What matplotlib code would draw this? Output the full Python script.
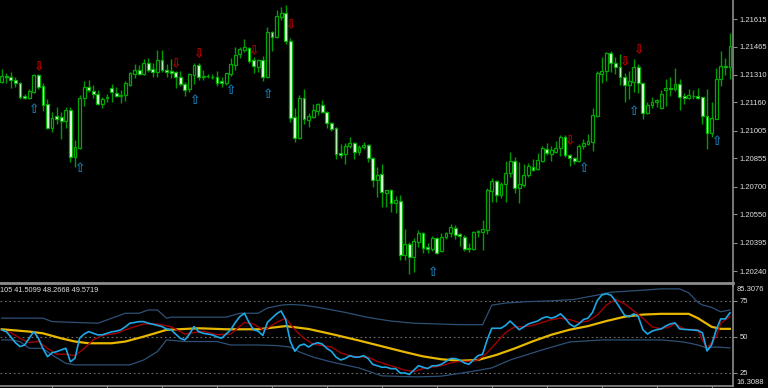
import matplotlib
matplotlib.use("Agg")
import matplotlib.pyplot as plt
from matplotlib.lines import Line2D
import numpy as np

# ---- price data (one candle per bar) ----
opens = [1.21272, 1.21304, 1.21299, 1.21283, 1.21267, 1.21195, 1.21184, 1.21217, 1.21310, 1.21250,
         1.21152, 1.21021, 1.21086, 1.21081, 1.21059, 1.21119, 1.20862, 1.20912, 1.21184, 1.21244,
         1.21223, 1.21206, 1.21152, 1.21184, 1.21239, 1.21212, 1.21195, 1.21201, 1.21255, 1.21315,
         1.21337, 1.21315, 1.21375, 1.21343, 1.21326, 1.21392, 1.21337, 1.21332, 1.21326, 1.21299,
         1.21261, 1.21233, 1.21310, 1.21364, 1.21299, 1.21304, 1.21299, 1.21299, 1.21277, 1.21267,
         1.21315, 1.21364, 1.21424, 1.21446, 1.21457, 1.21392, 1.21353, 1.21392, 1.21299, 1.21544,
         1.21517, 1.21626, 1.21648, 1.21495, 1.21081, 1.20966, 1.21184, 1.21064, 1.21081, 1.21113,
         1.21146, 1.21108, 1.21048, 1.21021, 1.20884, 1.20879, 1.20922, 1.20939, 1.20890, 1.20917,
         1.20928, 1.20857, 1.20737, 1.20770, 1.20666, 1.20682, 1.20611, 1.20622, 1.20328, 1.20388,
         1.20317, 1.20399, 1.20448, 1.20371, 1.20360, 1.20420, 1.20350, 1.20426, 1.20448, 1.20475,
         1.20442, 1.20426, 1.20366, 1.20360, 1.20453, 1.20453, 1.20464, 1.20677, 1.20731, 1.20655,
         1.20715, 1.20775, 1.20841, 1.20693, 1.20710, 1.20764, 1.20808, 1.20797, 1.20841, 1.20906,
         1.20879, 1.20890, 1.20912, 1.20972, 1.20873, 1.20857, 1.20841, 1.20922, 1.20933, 1.20944,
         1.21086, 1.21315, 1.21332, 1.21430, 1.21375, 1.21353, 1.21299, 1.21255, 1.21272, 1.21353,
         1.21267, 1.21102, 1.21146, 1.21162, 1.21130, 1.21228, 1.21239, 1.21233, 1.21261, 1.21195,
         1.21184, 1.21195, 1.21195, 1.21190, 1.21086, 1.20993, 1.21070, 1.21288, 1.21359, 1.21353]
highs = [1.21343, 1.21321, 1.21326, 1.21299, 1.21272, 1.21206, 1.21233, 1.21315, 1.21315, 1.21267,
         1.21179, 1.21108, 1.21135, 1.21108, 1.21135, 1.21135, 1.20955, 1.21201, 1.21277, 1.21283,
         1.21255, 1.21228, 1.21190, 1.21206, 1.21261, 1.21244, 1.21228, 1.21277, 1.21326, 1.21370,
         1.21364, 1.21397, 1.21403, 1.21375, 1.21446, 1.21446, 1.21370, 1.21397, 1.21332, 1.21332,
         1.21272, 1.21321, 1.21375, 1.21375, 1.21337, 1.21315, 1.21315, 1.21332, 1.21299, 1.21321,
         1.21403, 1.21463, 1.21463, 1.21506, 1.21463, 1.21408, 1.21397, 1.21413, 1.21572, 1.21550,
         1.21664, 1.21681, 1.21692, 1.21512, 1.21130, 1.21201, 1.21233, 1.21102, 1.21152, 1.21157,
         1.21173, 1.21113, 1.21053, 1.21026, 1.20933, 1.20939, 1.20972, 1.20944, 1.20928, 1.20944,
         1.20933, 1.20862, 1.20808, 1.20824, 1.20682, 1.20688, 1.20650, 1.20655, 1.20470, 1.20399,
         1.20420, 1.20464, 1.20451, 1.20393, 1.20431, 1.20426, 1.20448, 1.20453, 1.20497, 1.20491,
         1.20448, 1.20437, 1.20393, 1.20459, 1.20464, 1.20519, 1.20693, 1.20748, 1.20737, 1.20726,
         1.20841, 1.20890, 1.20862, 1.20835, 1.20824, 1.20830, 1.20851, 1.20884, 1.20922, 1.20939,
         1.20922, 1.20950, 1.20982, 1.20982, 1.20879, 1.20862, 1.20933, 1.20961, 1.20988, 1.21130,
         1.21332, 1.21408, 1.21435, 1.21441, 1.21408, 1.21424, 1.21321, 1.21332, 1.21397, 1.21370,
         1.21267, 1.21162, 1.21190, 1.21179, 1.21228, 1.21288, 1.21299, 1.21348, 1.21288, 1.21212,
         1.21233, 1.21228, 1.21239, 1.21190, 1.21233, 1.21162, 1.21348, 1.21441, 1.21403, 1.21539]
lows = [1.21267, 1.21267, 1.21239, 1.21244, 1.21179, 1.21179, 1.21179, 1.21212, 1.21233, 1.21113,
        1.21015, 1.20999, 1.21042, 1.20961, 1.21021, 1.20835, 1.20808, 1.20906, 1.21141, 1.21217,
        1.21184, 1.21146, 1.21130, 1.21162, 1.21162, 1.21190, 1.21157, 1.21168, 1.21250, 1.21293,
        1.21310, 1.21310, 1.21326, 1.21299, 1.21299, 1.21326, 1.21299, 1.21293, 1.21239, 1.21250,
        1.21195, 1.21217, 1.21261, 1.21283, 1.21283, 1.21293, 1.21288, 1.21250, 1.21244, 1.21255,
        1.21304, 1.21337, 1.21403, 1.21435, 1.21375, 1.21321, 1.21326, 1.21277, 1.21293, 1.21441,
        1.21512, 1.21610, 1.21479, 1.21053, 1.20944, 1.20961, 1.21042, 1.21026, 1.21075, 1.21092,
        1.21102, 1.21021, 1.21004, 1.20851, 1.20857, 1.20824, 1.20912, 1.20851, 1.20873, 1.20906,
        1.20835, 1.20699, 1.20644, 1.20590, 1.20590, 1.20562, 1.20557, 1.20300, 1.20300, 1.20224,
        1.20235, 1.20371, 1.20339, 1.20339, 1.20350, 1.20333, 1.20344, 1.20415, 1.20426, 1.20415,
        1.20377, 1.20350, 1.20344, 1.20355, 1.20426, 1.20355, 1.20442, 1.20617, 1.20617, 1.20639,
        1.20617, 1.20753, 1.20666, 1.20611, 1.20699, 1.20753, 1.20786, 1.20792, 1.20835, 1.20873,
        1.20841, 1.20884, 1.20868, 1.20862, 1.20813, 1.20824, 1.20835, 1.20906, 1.20928, 1.20895,
        1.21081, 1.21267, 1.21277, 1.21326, 1.21315, 1.21255, 1.21162, 1.21179, 1.21217, 1.21212,
        1.21070, 1.21097, 1.21130, 1.21135, 1.21124, 1.21141, 1.21195, 1.21223, 1.21119, 1.21152,
        1.21179, 1.21179, 1.21179, 1.21042, 1.20906, 1.20972, 1.21070, 1.21250, 1.21310, 1.21288]
closes = [1.21304, 1.21299, 1.21283, 1.21267, 1.21190, 1.21184, 1.21223, 1.21310, 1.21244, 1.21146,
          1.21021, 1.21075, 1.21070, 1.21059, 1.21119, 1.20862, 1.20917, 1.21184, 1.21244, 1.21228,
          1.21206, 1.21152, 1.21179, 1.21190, 1.21217, 1.21195, 1.21201, 1.21267, 1.21321, 1.21337,
          1.21315, 1.21375, 1.21337, 1.21326, 1.21392, 1.21337, 1.21326, 1.21321, 1.21299, 1.21261,
          1.21228, 1.21315, 1.21364, 1.21299, 1.21304, 1.21304, 1.21299, 1.21267, 1.21267, 1.21321,
          1.21370, 1.21419, 1.21452, 1.21463, 1.21386, 1.21359, 1.21392, 1.21299, 1.21544, 1.21517,
          1.21632, 1.21648, 1.21495, 1.21075, 1.20966, 1.21184, 1.21070, 1.21086, 1.21119, 1.21152,
          1.21108, 1.21048, 1.21015, 1.20879, 1.20873, 1.20922, 1.20939, 1.20890, 1.20917, 1.20928,
          1.20857, 1.20737, 1.20764, 1.20671, 1.20682, 1.20611, 1.20628, 1.20328, 1.20388, 1.20317,
          1.20404, 1.20448, 1.20366, 1.20360, 1.20420, 1.20339, 1.20426, 1.20448, 1.20480, 1.20437,
          1.20431, 1.20360, 1.20360, 1.20453, 1.20459, 1.20470, 1.20682, 1.20731, 1.20655, 1.20715,
          1.20775, 1.20841, 1.20693, 1.20715, 1.20764, 1.20813, 1.20792, 1.20846, 1.20912, 1.20884,
          1.20901, 1.20912, 1.20972, 1.20873, 1.20857, 1.20841, 1.20922, 1.20939, 1.20950, 1.21092,
          1.21321, 1.21332, 1.21430, 1.21375, 1.21353, 1.21299, 1.21255, 1.21277, 1.21353, 1.21267,
          1.21102, 1.21146, 1.21162, 1.21173, 1.21206, 1.21239, 1.21233, 1.21261, 1.21190, 1.21184,
          1.21201, 1.21195, 1.21184, 1.21086, 1.20993, 1.21075, 1.21288, 1.21359, 1.21353, 1.21468]

# signal arrows (bar index, price level)
sell_idx = [8, 38, 43, 55, 63, 124, 136, 139]
sell_lvl = [1.21351, 1.21367, 1.21419, 1.21438, 1.21577, 1.20944, 1.21378, 1.21441]
buy_idx = [7, 17, 42, 50, 58, 94, 127, 138, 156]
buy_lvl = [1.21122, 1.20800, 1.21173, 1.21223, 1.21206, 1.20232, 1.20800, 1.21111, 1.20947]

price_ticks = [1.21615, 1.21465, 1.21310, 1.21160, 1.21005, 1.20855, 1.20700, 1.20550, 1.20395, 1.20240]
price_labels = ["1.21615", "1.21465", "1.21310", "1.21160", "1.21005",
                "1.20855", "1.20700", "1.20550", "1.20395", "1.20240"]

# ---- TDI sub window (bar index, value) ----
rsi_idx = list(range(0, 160))
rsi_val = [54.9, 53.7, 50.0, 46.0, 43.3, 44.4, 49.0, 53.7, 49.1, 42.0,
           36.3, 39.0, 39.8, 41.0, 42.1, 32.8, 35.2, 49.1, 52.0, 53.7,
           52.5, 51.4, 51.5, 52.5, 53.5, 54.0, 54.9, 57.0, 59.5, 60.0,
           60.6, 60.6, 59.5, 58.8, 58.0, 57.2, 55.5, 54.9, 52.0, 49.0,
           47.9, 52.0, 57.2, 53.7, 52.5, 52.0, 51.4, 50.0, 49.1, 52.0,
           54.9, 60.0, 64.1, 66.4, 60.0, 54.9, 54.0, 51.0, 60.0, 63.0,
           66.0, 68.0, 62.0, 47.0, 40.0, 44.0, 45.0, 43.0, 45.0, 46.0,
           45.0, 42.0, 40.0, 36.0, 34.0, 35.0, 37.0, 36.0, 36.0, 37.0,
           35.0, 31.0, 30.0, 29.0, 29.0, 28.0, 28.0, 25.0, 25.0, 24.0,
           27.0, 30.0, 29.0, 28.0, 30.0, 30.0, 31.0, 33.0, 35.0, 35.0,
           34.0, 32.0, 31.0, 34.0, 37.0, 38.0, 48.0, 56.0, 56.0, 56.0,
           58.0, 61.0, 58.0, 55.0, 57.0, 59.0, 60.0, 61.0, 63.0, 64.0,
           63.0, 64.0, 66.0, 63.0, 59.0, 57.0, 59.0, 62.0, 63.0, 67.0,
           75.0, 79.0, 80.0, 79.0, 75.0, 70.0, 65.0, 64.0, 66.0, 64.0,
           55.0, 52.0, 54.0, 55.0, 55.6, 57.6, 59.0, 59.7, 55.6, 55.2,
           55.0, 54.8, 54.5, 52.8, 40.3, 44.4, 54.9, 62.5, 62.5, 66.7]

sig_idx = [0, 2, 4, 6, 8, 10, 12, 14, 16, 18, 20, 22, 25, 28, 31, 34, 37, 40, 42, 44,
           47, 50, 53, 55, 57, 58, 60, 62, 64, 66, 68, 70, 72, 74, 76, 78, 80, 82, 84, 86,
           88, 90, 92, 94, 96, 98, 100, 102, 104, 106, 108, 110, 112, 114, 116, 118, 120, 122, 124, 126,
           128, 130, 132, 134, 136, 138, 140, 142, 144, 146, 147, 149, 152, 153, 154, 156, 157, 159]
sig_val = [54.5, 53.0, 49.0, 46.0, 47.0, 42.0, 38.0, 38.0, 37.0, 42.0, 48.0, 51.0, 52.5, 56.0, 59.0, 59.0, 57.0, 52.0, 53.0, 54.0,
           51.5, 52.0, 60.0, 59.0, 55.0, 56.0, 60.0, 63.0, 55.0, 49.0, 45.0, 44.0, 43.0, 39.0, 37.0, 36.0, 36.0, 33.0, 31.0, 29.0,
           27.0, 26.0, 28.0, 29.0, 30.0, 32.0, 33.0, 33.0, 34.0, 39.0, 46.0, 53.0, 57.0, 57.0, 58.0, 60.0, 62.0, 63.0, 62.0, 60.0,
           61.0, 65.0, 72.0, 76.0, 73.0, 68.0, 63.0, 57.0, 55.6, 57.2, 59.5, 55.3, 55.0, 47.9, 42.1, 50.2, 59.5, 64.1]

base_idx = [0, 3, 6, 9, 13, 16, 19, 24, 27, 31, 36, 43, 49, 56, 62, 67, 72, 78, 83, 88,
            92, 96, 100, 104, 108, 112, 116, 120, 124, 128, 132, 136, 140, 144, 150, 152, 153, 155, 157, 159]
base_val = [55.3, 54.5, 53.7, 52.5, 49.0, 46.8, 45.6, 45.6, 46.8, 50.2, 54.9, 56.0, 55.3, 55.3, 57.5, 55.5, 52.0, 47.5, 43.5, 39.5,
            36.5, 34.5, 33.5, 34.0, 37.5, 42.0, 47.0, 51.5, 55.0, 57.5, 61.0, 64.0, 65.5, 66.0, 66.0, 63.0, 61.0, 57.0, 55.6, 55.6]

up_idx = [0, 9, 11, 21, 27, 30, 32, 34, 36, 37, 49, 52, 56, 58, 61, 63, 66, 70, 75, 80,
          85, 90, 95, 100, 105, 107, 110, 115, 120, 125, 130, 133, 138, 144, 148, 150, 152, 153, 155, 157, 159]
up_val = [63.0, 63.0, 60.6, 59.5, 66.4, 66.4, 68.7, 68.7, 63.0, 63.7, 63.7, 66.4, 66.4, 70.0, 72.0, 72.5, 72.0, 70.0, 67.0, 63.5,
          61.0, 59.5, 59.0, 58.5, 58.5, 72.0, 73.5, 74.5, 75.0, 76.0, 79.0, 81.0, 82.0, 83.3, 83.3, 80.6, 74.0, 72.2, 70.5, 67.4, 68.7]

dn_idx = [0, 2, 4, 6, 9, 11, 14, 16, 28, 31, 34, 36, 40, 47, 50, 56, 60, 63, 65, 68,
          72, 78, 83, 88, 91, 96, 102, 107, 111, 118, 124, 131, 144, 148, 150, 152, 154, 156, 159]
dn_val = [47.9, 47.9, 46.8, 42.1, 42.1, 37.5, 31.7, 30.6, 30.6, 34.0, 39.8, 47.9, 46.8, 46.8, 44.4, 44.4, 44.0, 43.0, 39.6, 36.0,
          32.6, 28.5, 23.0, 22.5, 22.3, 22.8, 25.7, 28.5, 34.0, 41.0, 46.5, 47.9, 47.9, 46.8, 45.8, 44.4, 42.4, 43.0, 42.4]

tdi_levels = [75, 50, 25]
tdi_top, tdi_bottom = 85.3076, 16.3088
tdi_text = "105 41.5099 48.2668 49.5719"

# ---- figure ----
W, H = 768, 388
fig = plt.figure(figsize=(W / 100, H / 100), dpi=100, facecolor="black")
plt.rcParams['font.family'] = ['Liberation Sans', 'DejaVu Sans']

xlo, xhi = -0.371, 159.67
axis_col = "#8c8c8c"
txt_col = "#e0e0e0"

ax = fig.add_axes([0, 1 - 283 / H, 733 / W, 283 / H])
ax.set_facecolor("black")
ax.set_xlim(xlo, xhi)
ax.set_ylim(1.20175, 1.21719)

x = np.arange(len(opens))
o = np.array(opens)
h = np.array(highs)
l = np.array(lows)
c = np.array(closes)
bull = c >= o

wick_col = "#009c00"
ax.vlines(x, l, h, color=wick_col, lw=1.0, zorder=2)
body_lo = np.minimum(o, c)
body_h = np.maximum(np.abs(c - o), 0.00002)
ax.bar(x[bull], body_h[bull], bottom=body_lo[bull], width=0.62,
       color="black", edgecolor="#00a800", lw=0.9, zorder=3)
ax.bar(x[~bull], body_h[~bull], bottom=body_lo[~bull], width=0.62,
       color="#f2fff2", edgecolor="#00b400", lw=0.9, zorder=3)

for i, p in zip(sell_idx, sell_lvl):
    ax.text(i, p, "\u21e9", color="#c00000", fontsize=9, fontweight="bold",
            ha="center", va="center", family="DejaVu Sans", zorder=4)
for i, p in zip(buy_idx, buy_lvl):
    ax.text(i, p, "\u21e7", color="#1a7cb0", fontsize=9, fontweight="bold",
            ha="center", va="center", family="DejaVu Sans", zorder=4)

ax.set_xticks([])
ax.yaxis.tick_right()
ax.set_yticks(price_ticks)
ax.set_yticklabels(price_labels)
ax.tick_params(axis="y", colors=axis_col, labelcolor=txt_col, labelsize=5.5,
               length=3, width=0.8, pad=1.5)
for s in ["top", "left"]:
    ax.spines[s].set_visible(False)
ax.spines["right"].set_color(axis_col)
ax.spines["right"].set_linewidth(1.2)
ax.spines["bottom"].set_color(axis_col)
ax.spines["bottom"].set_linewidth(2.0)

# ---- TDI panel ----
ax2 = fig.add_axes([0, 1 - 385.5 / H, 733 / W, 99.5 / H])
ax2.set_facecolor("black")
ax2.set_xlim(xlo, xhi)
ax2.set_ylim(tdi_bottom, tdi_top)

for lv in tdi_levels:
    ax2.axhline(lv, color="#6e6e6e", lw=0.8, ls=(0, (1.5, 2.5)), zorder=1)

ax2.plot(up_idx, up_val, color="#2e5076", lw=0.9, zorder=2)
ax2.plot(dn_idx, dn_val, color="#2e5076", lw=0.9, zorder=2)
ax2.plot(base_idx, base_val, color="#e8b800", lw=1.6, zorder=3)
ax2.plot(sig_idx, sig_val, color="#a00000", lw=1.0, zorder=4)
ax2.plot(rsi_idx, rsi_val, color="#1ea8e6", lw=1.2, zorder=5)

ax2.text(0.0, 0.955, tdi_text, transform=ax2.transAxes, color=txt_col,
         fontsize=5.3, ha="left", va="center")

ax2.yaxis.tick_right()
ax2.set_yticks(tdi_levels)
ax2.set_yticklabels([str(v) for v in tdi_levels])
ax2.tick_params(axis="y", colors=axis_col, labelcolor=txt_col, labelsize=5.5,
                length=3, width=0.8, pad=1.5)
ax2.text(1.005, 0.96, f"{tdi_top:.4f}", transform=ax2.transAxes, color=txt_col,
         fontsize=5.5, ha="left", va="center")
ax2.text(1.005, 0.035, f"{tdi_bottom:.4f}", transform=ax2.transAxes, color=txt_col,
         fontsize=5.5, ha="left", va="center")

ax2.set_xticks(np.arange(11, 160, 12))
ax2.tick_params(axis="x", colors=axis_col, labelbottom=False, length=3, width=0.8,
                direction="out")
for s in ["top", "left"]:
    ax2.spines[s].set_visible(False)
ax2.spines["right"].set_color(axis_col)
ax2.spines["right"].set_linewidth(1.2)
ax2.spines["bottom"].set_color(axis_col)
ax2.spines["bottom"].set_linewidth(1.2)

# gap between the two windows keeps the axis line continuous
fig.add_artist(Line2D([733 / W, 733 / W], [1 - 286 / H, 1 - 283 / H], color=axis_col, lw=1.2))

fig.savefig("out.png", dpi=100, facecolor="black")
